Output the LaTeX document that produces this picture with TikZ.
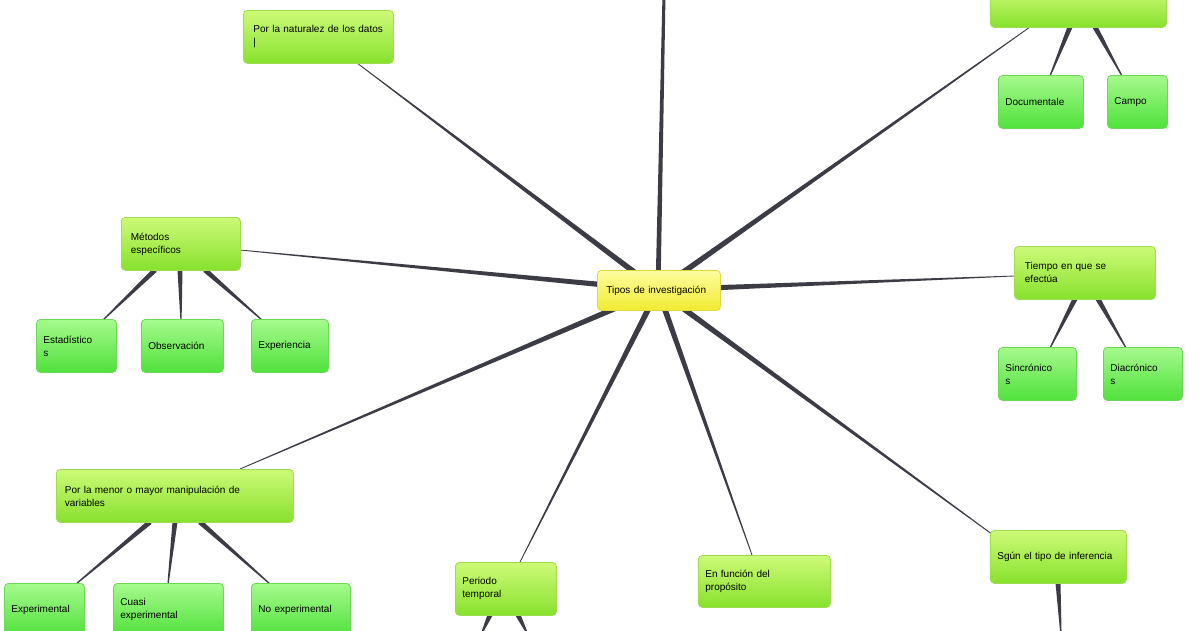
\documentclass[tikz,border=0pt]{standalone}
\usepackage{fontspec}
\setmainfont{Liberation Sans}
\usetikzlibrary{calc}
\definecolor{edge}{RGB}{60,60,70}
\definecolor{catd}{RGB}{160,220,80}
\definecolor{catt}{RGB}{205,250,120}
\definecolor{catb}{RGB}{135,225,45}
\definecolor{leafd}{RGB}{110,215,90}
\definecolor{leaft}{RGB}{165,250,140}
\definecolor{leafb}{RGB}{80,225,60}
\definecolor{cored}{RGB}{225,215,60}
\definecolor{coret}{RGB}{255,252,160}
\definecolor{coreb}{RGB}{240,235,50}
\tikzset{
  base/.style={draw, rounded corners=4pt, line width=0.8pt, anchor=north west, align=left, inner sep=0pt, font=\fontsize{10}{13}\selectfont},
  cat/.style={base, draw=catd, top color=catt, bottom color=catb},
  leaf/.style={base, draw=leafd, top color=leaft, bottom color=leafb},
  core/.style={base, draw=cored, top color=coret, bottom color=coreb},
}
\newcommand{\mytaper}[4]{\fill[edge] ($(#1)!#3!90:(#2)$) -- ($(#2)!#4!-90:(#1)$) -- ($(#2)!#4!90:(#1)$) -- ($(#1)!#3!-90:(#2)$) -- cycle;}
\begin{document}
\begin{tikzpicture}[x=1pt,y=-1pt]
\useasboundingbox (0,0) rectangle (1200,630);
\fill[white] (0,0) rectangle (1200,630);
\coordinate (c) at (658,290);
\coordinate (top) at (664,-5);
\coordinate (e1) at (357,63);
\coordinate (e2) at (240,250);
\coordinate (e3) at (240,469);
\coordinate (e4) at (520,562);
\coordinate (e5) at (752,555);
\coordinate (e6) at (1000,540);
\coordinate (e7) at (1014,276);
\coordinate (e8) at (1030,27);
\mytaper{c}{top}{2.5pt}{1.5pt}
\mytaper{c}{e1}{3pt}{0.4pt}
\mytaper{c}{e2}{3pt}{0.4pt}
\mytaper{c}{e3}{3pt}{0.4pt}
\mytaper{c}{e4}{3pt}{0.4pt}
\mytaper{c}{e5}{3pt}{0.4pt}
\mytaper{c}{e6}{3pt}{0.4pt}
\mytaper{c}{e7}{3pt}{0.4pt}
\mytaper{c}{e8}{3pt}{0.4pt}
\coordinate (p1) at (1070,27); \coordinate (q1) at (1050,76);
\coordinate (p2) at (1095,27); \coordinate (q2) at (1122,76);
\coordinate (p3) at (155,270); \coordinate (q3) at (103,320);
\coordinate (p4) at (180,270); \coordinate (q4) at (181,320);
\coordinate (p5) at (205,270); \coordinate (q5) at (262,320);
\coordinate (p6) at (1075,299); \coordinate (q6) at (1050,348);
\coordinate (p7) at (1098,299); \coordinate (q7) at (1126,348);
\coordinate (p8) at (150,522); \coordinate (q8) at (76,584);
\coordinate (p9) at (175,522); \coordinate (q9) at (168,584);
\coordinate (p10) at (200,522); \coordinate (q10) at (270,584);
\coordinate (p11) at (490,615); \coordinate (q11) at (481,635);
\coordinate (p12) at (518,615); \coordinate (q12) at (528,635);
\coordinate (p13) at (1058,583); \coordinate (q13) at (1061,635);
\foreach \i in {1,...,13}{\mytaper{p\i}{q\i}{2.5pt}{0.6pt}}
\node[core, minimum width=123pt, minimum height=40pt, text width=109pt] (tipos) at (597,270) {\hspace*{2pt}Tipos de investigación};
\node[cat, minimum width=150pt, minimum height=53pt, text width=130pt] (nat) at (243,10) {Por la naturalez de los datos\\|};
\node[cat, minimum width=176pt, minimum height=40pt] (tr) at (990,-13) {};
\node[leaf, minimum width=85pt, minimum height=53pt, text width=71pt] (doc) at (998,75) {Documentale};
\node[leaf, minimum width=60pt, minimum height=53pt, text width=46pt] (campo) at (1107,75) {Campo};
\node[cat, minimum width=119pt, minimum height=53pt, text width=100pt] (met) at (121,217) {Métodos\\específicos};
\node[leaf, minimum width=80pt, minimum height=53pt, text width=66pt] (est) at (36,319) {Estadístico\\s};
\node[leaf, minimum width=82pt, minimum height=53pt, text width=68pt] (obs) at (141,319) {Observación};
\node[leaf, minimum width=77pt, minimum height=53pt, text width=63pt] (exp) at (251,319) {Experiencia};
\node[cat, minimum width=141pt, minimum height=53pt, text width=120pt] (tiempo) at (1014,246) {Tiempo en que se\\efectúa};
\node[leaf, minimum width=78pt, minimum height=53pt, text width=64pt] (sin) at (998,347) {Sincrónico\\s};
\node[leaf, minimum width=79pt, minimum height=53pt, text width=65pt] (dia) at (1103,347) {Diacrónico\\s};
\node[cat, minimum width=237pt, minimum height=53pt, text width=220pt] (man) at (56,469) {Por la menor o mayor manipulación de\\variables};
\node[leaf, minimum width=80pt, minimum height=53pt, text width=66pt] (expl) at (4,583) {Experimental};
\node[leaf, minimum width=110pt, minimum height=53pt, text width=96pt] (cuasi) at (113,583) {Cuasi\\experimental};
\node[leaf, minimum width=99pt, minimum height=53pt, text width=85pt] (noexp) at (251,583) {No experimental};
\node[cat, minimum width=101pt, minimum height=53pt, text width=87pt] (per) at (455,562) {Periodo\\temporal};
\node[cat, minimum width=132pt, minimum height=52pt, text width=118pt] (fun) at (698,555) {En función del\\propósito};
\node[cat, minimum width=136pt, minimum height=53pt, text width=122pt] (inf) at (990,530) {Sgún el tipo de inferencia};
\end{tikzpicture}
\end{document}
